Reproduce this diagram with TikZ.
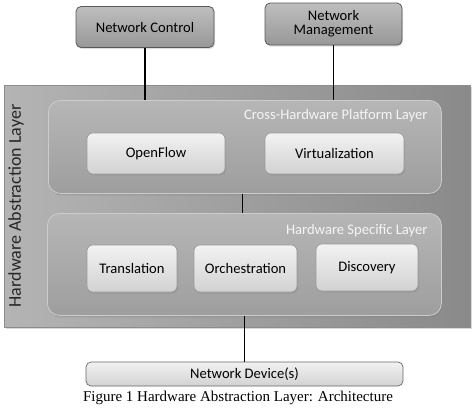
\documentclass[tikz,border=0pt]{standalone}
\usepackage{fontspec}
\setmainfont{Carlito}
\newfontfamily\capfont{Liberation Serif}
\usetikzlibrary{shadows}
\definecolor{outerA}{HTML}{B4B4B4}
\definecolor{outerB}{HTML}{8A8A8A}
\definecolor{layerA}{HTML}{B6B6B6}
\definecolor{layerB}{HTML}{9E9E9E}
\definecolor{boxA}{HTML}{F2F2F2}
\definecolor{boxB}{HTML}{D2D2D2}
\definecolor{topA}{HTML}{BEBEBE}
\definecolor{topB}{HTML}{989898}
\tikzset{
  topbox/.style={draw=black!65, line width=0.8pt, rounded corners=5pt, top color=topA, bottom color=topB, inner sep=0pt, align=center, font=\fontsize{14.6}{15.5}\selectfont, drop shadow={opacity=0.25, shadow xshift=1pt, shadow yshift=-1.5pt}},
  innerbox/.style={draw=black!40, line width=0.6pt, rounded corners=6pt, top color=boxA, bottom color=boxB, inner sep=0pt, align=center, font=\fontsize{14.6}{16}\selectfont, drop shadow={opacity=0.3, shadow xshift=1pt, shadow yshift=-1.5pt}},
  layerbox/.style={draw=white!80!black, line width=0.8pt, rounded corners=12pt, top color=layerA, bottom color=layerB, drop shadow={opacity=0.35, shadow xshift=1pt, shadow yshift=-2pt}},
  outerbox/.style={draw=black!45, line width=0.5pt, left color=outerA, right color=outerB, drop shadow={opacity=0.3, shadow xshift=1.5pt, shadow yshift=-1.5pt}},
  devbox/.style={draw=black!60, line width=0.7pt, rounded corners=5pt, top color=boxA, bottom color=boxB, inner sep=0pt, font=\fontsize{14.6}{16}\selectfont},
  conn/.style={line width=1.1pt, black},
  laylabel/.style={font=\fontsize{14.6}{16}\selectfont, anchor=east, text=white!96!black},
}
\begin{document}
\begin{tikzpicture}[x=1pt,y=-1pt]
\useasboundingbox (0,0) rectangle (474,408);
% outer
\node[outerbox, minimum width=466pt, minimum height=242pt, anchor=north west, inner sep=0pt] (hal) at (4,85) {};
\node[rotate=90, font=\fontsize{18}{20}\selectfont, text=black!85] (hallabel) at (16,206) {Hardware Abstraction Layer};
% layers
\node[layerbox, minimum width=393pt, minimum height=93pt, anchor=north west, inner sep=0pt] (cross) at (48,100) {};
\node[layerbox, minimum width=394pt, minimum height=102pt, anchor=north west, inner sep=0pt] (hsl) at (47,213) {};
\node[laylabel] (crosslabel) at (431,116) {Cross-Hardware Platform Layer};
\node[laylabel] (hsllabel) at (431,231) {Hardware Specific Layer};
% inner boxes
\node[innerbox, minimum width=138pt, minimum height=41pt] (openflow) at (156,153.5) {OpenFlow};
\node[innerbox, minimum width=139pt, minimum height=41pt] (virt) at (334.5,153.5) {Virtualization};
\node[innerbox, minimum width=90pt, minimum height=47pt] (trans) at (132,268.5) {Translation};
\node[innerbox, minimum width=103pt, minimum height=47pt] (orch) at (245.5,268.5) {Orchestration};
\node[innerbox, minimum width=102pt, minimum height=47pt] (disc) at (367,267.5) {Discovery};
% top boxes
\node[topbox, minimum width=138pt, minimum height=41pt] (nc) at (145,27) {Network Control};
\node[topbox, minimum width=137pt, minimum height=42pt] (nm) at (333.5,24) {Network\\[-1.5pt]Management};
% device
\node[devbox, minimum width=317pt, minimum height=24pt] (dev) at (244.5,374) {Network Device(s)};
% connectors
\draw[conn] (nc.south) -- (nc.south |- cross.north);
\draw[conn] (nm.south) -- (nm.south |- cross.north);
\draw[conn] ([xshift=-2.5pt]cross.south) -- ([xshift=-2.5pt]cross.south |- hsl.north);
\draw[conn] (dev.north) -- (dev.north |- hsl.south);
% caption
\node[font=\capfont\fontsize{15}{16}\selectfont] (caption) at (238,397.5) {Figure 1 Hardware Abstraction Layer: Architecture};
\end{tikzpicture}
\end{document}
